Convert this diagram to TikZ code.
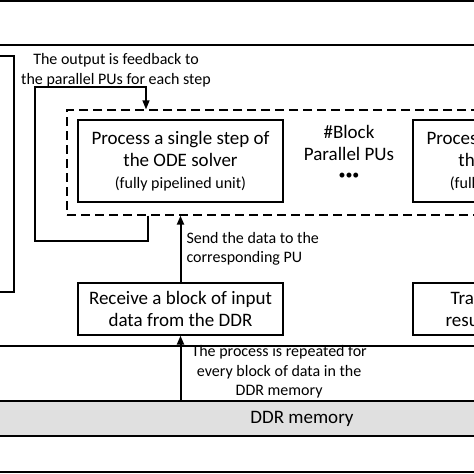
\documentclass[tikz,border=0pt]{standalone}
\usepackage{fontspec}
\setmainfont{Carlito}
\usetikzlibrary{arrows.meta,positioning}

\begin{document}
\begin{tikzpicture}[
  x=1pt, y=-1pt,
  pubox/.style={draw, line width=1.3pt, minimum width=205pt, minimum height=82pt, align=center, inner sep=0pt, font=\fontsize{19}{22}\selectfont},
  iobox/.style={draw, line width=1.3pt, minimum width=205pt, minimum height=52pt, align=center, inner sep=0pt, font=\fontsize{19}{22}\selectfont},
  group/.style={draw, dash pattern=on 9pt off 5pt, line width=1.3pt, minimum width=560pt, minimum height=105pt, inner sep=0pt},
  region/.style={draw, line width=1.4pt, minimum width=560pt, inner sep=0pt},
  note/.style={align=center, font=\fontsize{16}{19.5}\selectfont, inner sep=0pt},
  arrow/.style={-{Triangle[length=9pt, width=7pt]}, line width=2pt},
  feedback/.style={-{Triangle[length=9pt, width=7pt]}, line width=1.4pt}
]
\useasboundingbox (0,0) rectangle (474,474);
\clip (0,0) rectangle (474,474);

% outer frame and FPGA region
\node[region, line width=2.5pt, minimum height=471pt] (frame) at (237,236.5) {};
\node[region, minimum height=301pt] (fpga) at (237,195.5) {};
\node[draw, line width=1.4pt, minimum width=230pt, minimum height=236pt] (host) at (-101,174) {};

% parallel processing units
\node[group] (grp) at (347,162.5) {};
\node[pubox] (pu1) at (180.5,161) {Process a single step of\\the ODE solver\\{\fontsize{16}{19}\selectfont (fully pipelined unit)}};
\node[pubox] (pun) at (515.5,161) {Process a single step of\\the ODE solver\\{\fontsize{16}{19}\selectfont (fully pipelined unit)}};
\node[align=center, font=\fontsize{19}{22}\selectfont] (npu) at (349,152) {\#Block\\Parallel PUs\\[-3pt]{\fontsize{14}{14}\selectfont •••}};

% input / output
\node[iobox] (recv) at (180.5,309) {Receive a block of input\\data from the DDR};
\node[iobox] (trans) at (515.5,309) {Transfer the final\\results to the DDR};
\node[draw, fill=black!12, line width=1.4pt, minimum width=700pt, minimum height=35pt, font=\fontsize{19}{22}\selectfont] (ddr) at (302,418.5) {DDR memory};

\draw[arrow] (recv.north) -- (recv.north |- grp.south)
  node[midway, right=5pt, note, align=left] {Send the data to the\\corresponding PU};
\draw[arrow] (ddr.north -| recv.south) -- (recv.south)
  node[midway, right=10pt, yshift=-4pt, note] {The process is repeated for\\every block of data in the\\DDR memory};

% feedback loop
\coordinate (fbout) at (148,241);
\coordinate (fbleft) at (35,241);
\coordinate (fbin) at (146,87);
\draw[feedback] (grp.south -| fbout) |- (fbleft) |- (fbin) -- (grp.north -| fbin);
\node[note] (fblabel) at (116,70) {The output is feedback to\\the parallel PUs for each step};
\end{tikzpicture}
\end{document}
